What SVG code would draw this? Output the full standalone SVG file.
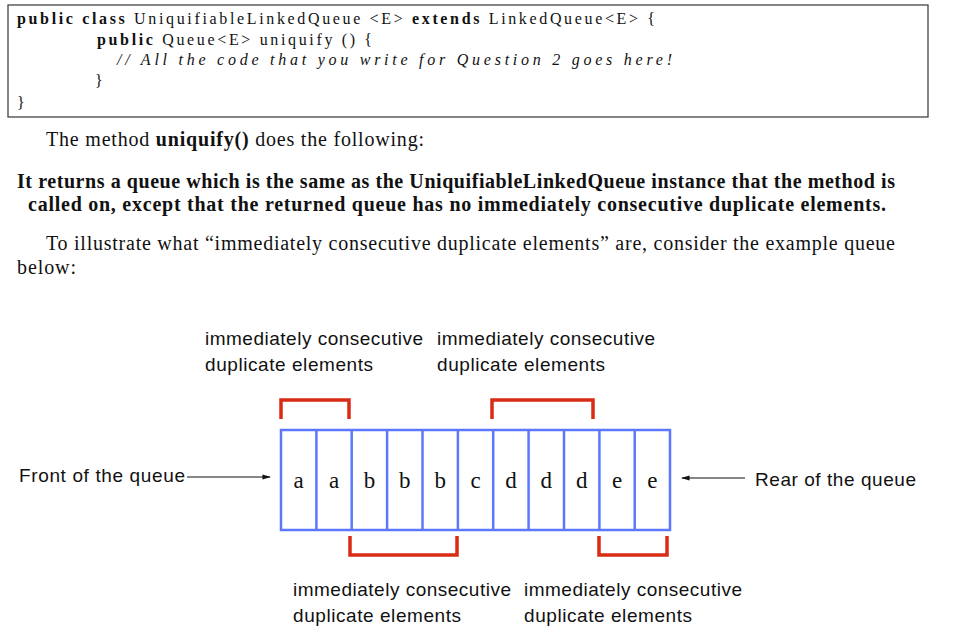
<svg xmlns="http://www.w3.org/2000/svg" width="956" height="640" viewBox="0 0 956 640">
<defs>
<style>
.code{font-family:"Liberation Serif",serif;font-size:16px;fill:#111}
.b{font-weight:bold}
.body{font-family:"Liberation Serif",serif;font-size:20px;fill:#111}
.lab{font-family:"Liberation Sans",sans-serif;font-size:19px;fill:#111}
.cell{fill:#fff;stroke:#5b78ff;stroke-width:2.5}
.br{fill:none;stroke:#d92b15;stroke-width:3.5}
.ch{font-family:"Liberation Serif",serif;font-size:23px;fill:#111;text-anchor:middle}
.arr{stroke:#111;stroke-width:1.2}
</style>
<marker id="ah" viewBox="0 0 10 10" refX="9" refY="5" markerWidth="7" markerHeight="7" orient="auto"><path d="M0,2L10,5L0,8z" fill="#111"/></marker>
</defs>
<rect width="956" height="640" fill="#fff"/>
<g id="code">
<rect x="8" y="5" width="920" height="112" fill="#fff" stroke="#444" stroke-width="1.3"/>
<text class="code" x="17" y="24" textLength="638"><tspan class="b">public class</tspan> UniquifiableLinkedQueue &lt;E&gt; <tspan class="b">extends</tspan> LinkedQueue&lt;E&gt; {</text>
<text class="code" x="97" y="45" textLength="275"><tspan class="b">public</tspan> Queue&lt;E&gt; uniquify () {</text>
<text class="code" x="117" y="65" font-style="italic" textLength="555">// All the code that you write for Question 2 goes here!</text>
<text class="code" x="95" y="86">}</text>
<text class="code" x="17" y="108">}</text>
</g>
<g id="text">
<text class="body" x="46" y="146" textLength="378">The method <tspan class="b">uniquify()</tspan> does the following:</text>
<text class="body b" x="17" y="188" textLength="878">It returns a queue which is the same as the UniquifiableLinkedQueue instance that the method is</text>
<text class="body b" x="28" y="211" textLength="858">called on, except that the returned queue has no immediately consecutive duplicate elements.</text>
<text class="body" x="46" y="250" textLength="849">To illustrate what “immediately consecutive duplicate elements” are, consider the example queue</text>
<text class="body" x="17" y="274" textLength="59">below:</text>
</g>
<g id="labels">
<text class="lab" x="205" y="345" textLength="218">immediately consecutive</text>
<text class="lab" x="205" y="371" textLength="168">duplicate elements</text>
<text class="lab" x="437" y="345" textLength="218">immediately consecutive</text>
<text class="lab" x="437" y="371" textLength="168">duplicate elements</text>
<text class="lab" x="293" y="596" textLength="218">immediately consecutive</text>
<text class="lab" x="293" y="622" textLength="168">duplicate elements</text>
<text class="lab" x="524" y="596" textLength="218">immediately consecutive</text>
<text class="lab" x="524" y="622" textLength="168">duplicate elements</text>
<text class="lab" x="19" y="482" textLength="166">Front of the queue</text>
<text class="lab" x="755" y="486" textLength="161">Rear of the queue</text>
</g>
<g id="queue">
<rect class="cell" x="281" y="430" width="389" height="100"/>
<g class="cell"><path d="M316.4,430V530M351.7,430V530M387.1,430V530M422.5,430V530M457.9,430V530M493.2,430V530M528.6,430V530M564,430V530M599.4,430V530M634.7,430V530"/></g>
<text class="ch" y="488"><tspan x="298.7">a</tspan><tspan x="334">a</tspan><tspan x="369.4">b</tspan><tspan x="404.8">b</tspan><tspan x="440.2">b</tspan><tspan x="475.5">c</tspan><tspan x="510.9">d</tspan><tspan x="546.3">d</tspan><tspan x="581.7">d</tspan><tspan x="617">e</tspan><tspan x="652.4">e</tspan></text>
</g>
<g id="connectors">
<path class="br" d="M281,419V400H349V419"/>
<path class="br" d="M492,419V400H593V419"/>
<path class="br" d="M350,536V555H457V536"/>
<path class="br" d="M599,536V555H667V536"/>
<line class="arr" x1="187" y1="477" x2="270" y2="477" marker-end="url(#ah)"/>
<line class="arr" x1="745" y1="478" x2="682" y2="478" marker-end="url(#ah)"/>
</g>
</svg>
